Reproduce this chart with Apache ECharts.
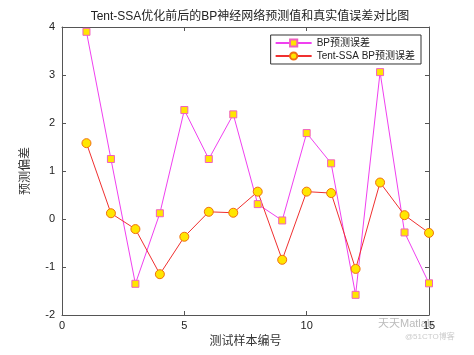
<!DOCTYPE html>
<html><head><meta charset="utf-8">
<script src="https://cdn.jsdelivr.net/npm/echarts@6/dist/echarts.min.js"></script>
<style>html,body{margin:0;padding:0;background:#fff}#c{width:474px;height:355px}</style>
</head><body><div id="c"></div>
<script>
const samples = [1,2,3,4,5,6,7,8,9,10,11,12,13,14,15];
const bpError = [3.9,1.25,-1.35,0.12,2.27,1.25,2.18,0.31,-0.03,1.79,1.16,-1.58,3.06,-0.28,-1.34];
const ssaError = [1.58,0.12,-0.21,-1.15,-0.37,0.15,0.13,0.57,-0.85,0.57,0.54,-1.04,0.76,0.08,-0.29];
const titleText = 'Tent-SSA优化前后的BP神经网络预测值和真实值误差对比图';
const xName = '测试样本编号';
const yName = '预测偏差';
const seriesNames = ['BP预测误差','Tent-SSA BP预测误差'];

const font = 'Arial, "Liberation Sans", "Noto Sans CJK SC", sans-serif';
const chart = echarts.init(document.getElementById('c'));
function axisBase(){ return {
  axisLine:{show:true,onZero:false,lineStyle:{color:'#555',width:1}},
  axisTick:{show:true,inside:true,length:4,lineStyle:{color:'#555'}},
  splitLine:{show:false}
};}
chart.setOption({
  backgroundColor:'#fff',
  animation:false,
  title:{text:titleText,left:245,textAlign:'center',top:6,
    textStyle:{fontSize:12,fontWeight:'normal',color:'#222',fontFamily:font}},
  legend:{
    data:seriesNames, orient:'vertical', right:53, top:35,
    backgroundColor:'#fff', borderColor:'#333', borderWidth:1, borderRadius:0,
    padding:[3,6,3,4], itemGap:3, itemWidth:36, itemHeight:9,
    textStyle:{fontSize:10,color:'#222',fontFamily:font}
  },
  grid:{left:62,right:45,top:27,bottom:40,containLabel:false},
  xAxis:[
    Object.assign({type:'value',min:0,max:15,interval:5,position:'bottom',
      name:xName,nameLocation:'middle',nameGap:21,
      nameTextStyle:{fontSize:12,color:'#333',fontFamily:font},
      axisLabel:{fontSize:11,color:'#222',margin:5,fontFamily:font}},axisBase()),
    Object.assign({type:'value',min:0,max:15,interval:5,position:'top',
      axisLabel:{show:false}},axisBase())
  ],
  yAxis:[
    Object.assign({type:'value',min:-2,max:4,interval:1,position:'left',
      name:yName,nameLocation:'middle',nameGap:30,nameRotate:90,
      nameTextStyle:{fontSize:12,color:'#333',fontFamily:font},
      axisLabel:{fontSize:11,color:'#222',margin:7,fontFamily:font}},axisBase()),
    Object.assign({type:'value',min:-2,max:4,interval:1,position:'right',
      axisLabel:{show:false}},axisBase())
  ],
  series:[
    {name:seriesNames[0],type:'line',data:samples.map((s,i)=>[s,bpError[i]]),
      symbol:'rect',symbolSize:7,
      lineStyle:{color:'#f040f0',width:1},
      itemStyle:{color:'#ffe600',borderColor:'#f060c0',borderWidth:1}},
    {name:seriesNames[1],type:'line',data:samples.map((s,i)=>[s,ssaError[i]]),
      symbol:'circle',symbolSize:9,
      lineStyle:{color:'#f03030',width:1},
      itemStyle:{color:'#ffe600',borderColor:'#f07010',borderWidth:1}}
  ],
  graphic:[
    {type:'text',left:378,top:318,style:{text:'天天Matlab',fontSize:11,fill:'#bbb',fontFamily:font}},
    {type:'text',left:405,top:333,style:{text:'@51CTO博客',fontSize:8,fill:'#ccc',fontFamily:font}}
  ]
});
</script></body></html>
